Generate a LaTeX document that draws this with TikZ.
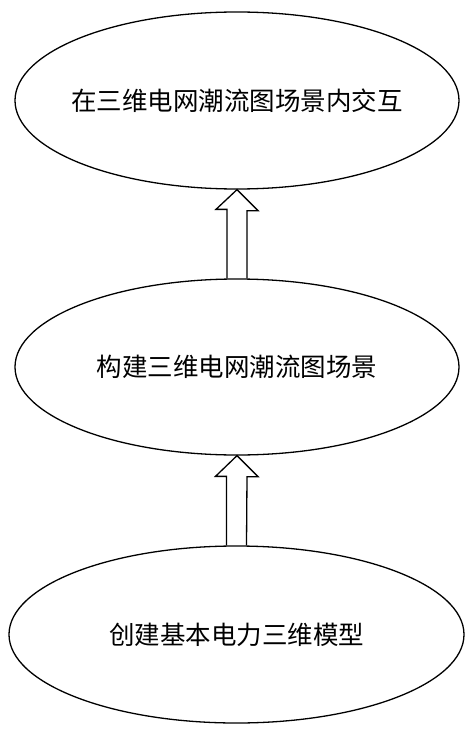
\documentclass[tikz,border=0pt]{standalone}
\usepackage{fontspec}
\setmainfont{Noto Sans CJK SC}
\usetikzlibrary{shapes.geometric,calc}
\newcommand{\ovaltext}[1]{\makebox[0pt][c]{#1}}
\begin{document}
\begin{tikzpicture}[x=1pt,y=-1pt,
  oval/.style={ellipse,draw,line width=1.3pt,inner sep=0pt,font=\fontsize{25.5}{28}\selectfont},
  hollowarrow/.style={draw,line width=1.3pt,line join=miter}]
\useasboundingbox (0,0) rectangle (474,733);
\node[oval,minimum width=444,minimum height=177] (top) at (237,100.5) {\ovaltext{在三维电网潮流图场景内交互}};
\node[oval,minimum width=444,minimum height=176] (mid) at (237,367) {\ovaltext{构建三维电网潮流图场景}};
\node[oval,minimum width=455,minimum height=177] (bot) at (236.5,634.5) {\ovaltext{创建基本电力三维模型}};
\draw[hollowarrow] ($(mid.north)+(-10,0)$) -- ++(0,-69) -- ++(-11,0) -- (top.south) -- ++(21,21) -- ++(-11,0) -- ($(mid.north)+(10,0)$);
\draw[hollowarrow] ($(bot.north)+(-10,0)$) -- ++(0,-69) -- ++(-11,0) -- (mid.south) -- ++(21,21) -- ++(-11,0) -- ($(bot.north)+(10,0)$);
\end{tikzpicture}
\end{document}
